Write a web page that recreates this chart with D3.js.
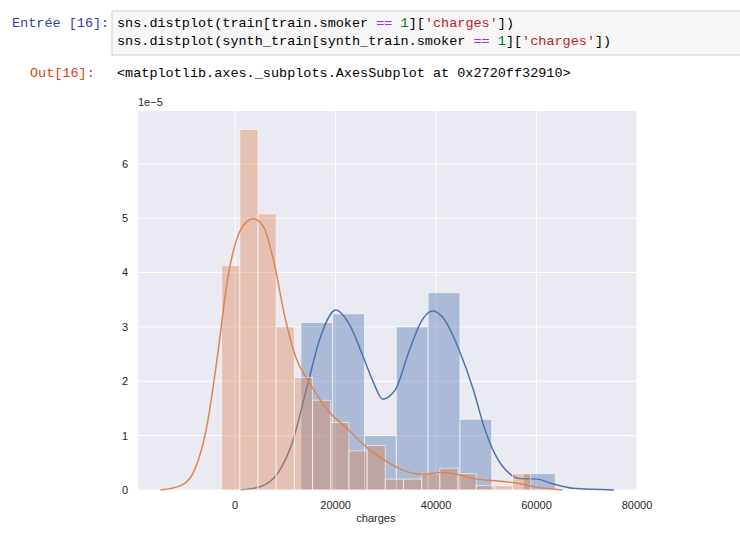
<!DOCTYPE html><html><head><meta charset="utf-8"><script src="https://cdn.jsdelivr.net/npm/d3@7"></script>
<style>body{margin:0;background:#fff;}</style></head><body><svg id="c" width="740" height="540"></svg>
<script>
const blueStart=13100, blueW=6330;
const blueHeights=[3.08,3.24,1.0,3.0,3.63,1.3,0,0.3];
const orangeStart=-2690, orangeW=3620;
const orangeHeights=[4.13,6.63,5.08,3.0,2.07,1.65,1.24,0.72,0.82,0.2,0.2,0.3,0.4,0.3,0.08,0.08,0.3];
const blueKdeX=[1060,4960,8500,11330,14160,17000,20040,22660,25490,27610,29380,31860,34690,36820,39290,41770,44600,47440,49560,51680,54520,56640,60180,63010,67260,75400];
const blueKdeY=[0,.06,.31,.86,1.84,2.82,3.31,3.06,2.45,1.96,1.67,1.84,2.57,3.06,3.29,3.12,2.57,1.84,1.16,.67,.31,.21,.2,.12,.03,0];
const orangeKdeX=[-14870,-10620,-7790,-5660,-3540,-1420,1060,3540,5660,7790,9910,12040,14870,18410,22660,26900,29740,33280,37170,41060,44600,48140,51680,55930,60180,65140];
const orangeKdeY=[0,.09,.43,1.16,2.45,3.92,4.78,4.99,4.84,4.16,3.18,2.45,1.96,1.47,1.1,.73,.55,.37,.29,.32,.28,.2,.17,.13,.05,0];
const xTicks=[0,20000,40000,60000,80000];
const yTicks=[0,1,2,3,4,5,6];

const svg=d3.select("#c");
const monoF='"Liberation Mono","DejaVu Sans Mono",monospace';
svg.append("rect").attr("x",112).attr("y",11).attr("width",640).attr("height",44).attr("fill","#f7f7f7").attr("stroke","#cfcfcf");
const fs=13.5;
function t(xp,yp,col){return svg.append("text").attr("x",xp).attr("y",yp).attr("fill",col).attr("font-size",fs).attr("font-family",monoF).attr("xml:space","preserve");}
t(12,27,"#303f9f").text("Entrée [16]:");
const parts=a=>[[a,"#000"],["==","#aa22ff"],[" ","#000"],["1","#008000"],["][","#000"],["'charges'","#ba2121"],["])","#000"]];
const l1=t(117,27,"#000");parts("sns.distplot(train[train.smoker ").forEach(p=>l1.append("tspan").attr("fill",p[1]).text(p[0]));
const l2=t(117,45,"#000");parts("sns.distplot(synth_train[synth_train.smoker ").forEach(p=>l2.append("tspan").attr("fill",p[1]).text(p[0]));
t(30,77,"#d84315").text("Out[16]:");
t(117,77,"#000").text("<matplotlib.axes._subplots.AxesSubplot at 0x2720ff32910>");

const L=138,R=637,T=111,B=490;
const x=d3.scaleLinear().domain([-19340,80000]).range([L,R]);
const y=d3.scaleLinear().domain([0,6.97]).range([B,T]);
const g=svg.append("g");
g.append("rect").attr("x",L).attr("y",T).attr("width",R-L).attr("height",B-T).attr("fill","#eaeaf2");
xTicks.forEach(t=>g.append("line").attr("x1",x(t)).attr("x2",x(t)).attr("y1",T).attr("y2",B).attr("stroke","#fff").attr("stroke-width",1));
yTicks.forEach(t=>g.append("line").attr("y1",y(t)).attr("y2",y(t)).attr("x1",L).attr("x2",R).attr("stroke","#fff").attr("stroke-width",1));
function bars(start,w,hs,col){g.selectAll(null).data(hs).enter().append("rect")
 .attr("x",(d,i)=>x(start+i*w)).attr("width",(d,i)=>x(start+(i+1)*w)-x(start+i*w))
 .attr("y",d=>y(d)).attr("height",d=>B-y(d)).attr("fill",col).attr("fill-opacity",0.4)
 .attr("stroke","#fff").attr("stroke-opacity",0.6).attr("stroke-width",1);}
bars(blueStart,blueW,blueHeights,"#4c72b0");
const line=d3.line().x(d=>x(d[0])).y(d=>y(d[1])).curve(d3.curveMonotoneX);
g.append("path").attr("d",line(blueKdeX.map((v,i)=>[v,blueKdeY[i]]))).attr("fill","none").attr("stroke","#4c72b0").attr("stroke-width",1.5);
bars(orangeStart,orangeW,orangeHeights,"#dd8452");
g.append("path").attr("d",line(orangeKdeX.map((v,i)=>[v,orangeKdeY[i]]))).attr("fill","none").attr("stroke","#dd8452").attr("stroke-width",1.5);
const sans='"Liberation Sans",Arial,sans-serif';
xTicks.forEach(t=>g.append("text").attr("x",x(t)).attr("y",B+19).attr("text-anchor","middle").attr("font-size",11).attr("font-family",sans).attr("fill","#262626").text(t));
yTicks.forEach(t=>g.append("text").attr("x",L-10).attr("y",y(t)+4).attr("text-anchor","end").attr("font-size",11).attr("font-family",sans).attr("fill","#262626").text(t));
g.append("text").attr("x",L).attr("y",T-5).attr("font-size",11).attr("font-family",sans).attr("fill","#262626").text("1e−5");
g.append("text").attr("x",x(20000)+ (x(40000)-x(20000))/2 - 10).attr("y",B+32).attr("text-anchor","middle").attr("font-size",11).attr("font-family",sans).attr("fill","#262626").text("charges");
</script></body></html>
